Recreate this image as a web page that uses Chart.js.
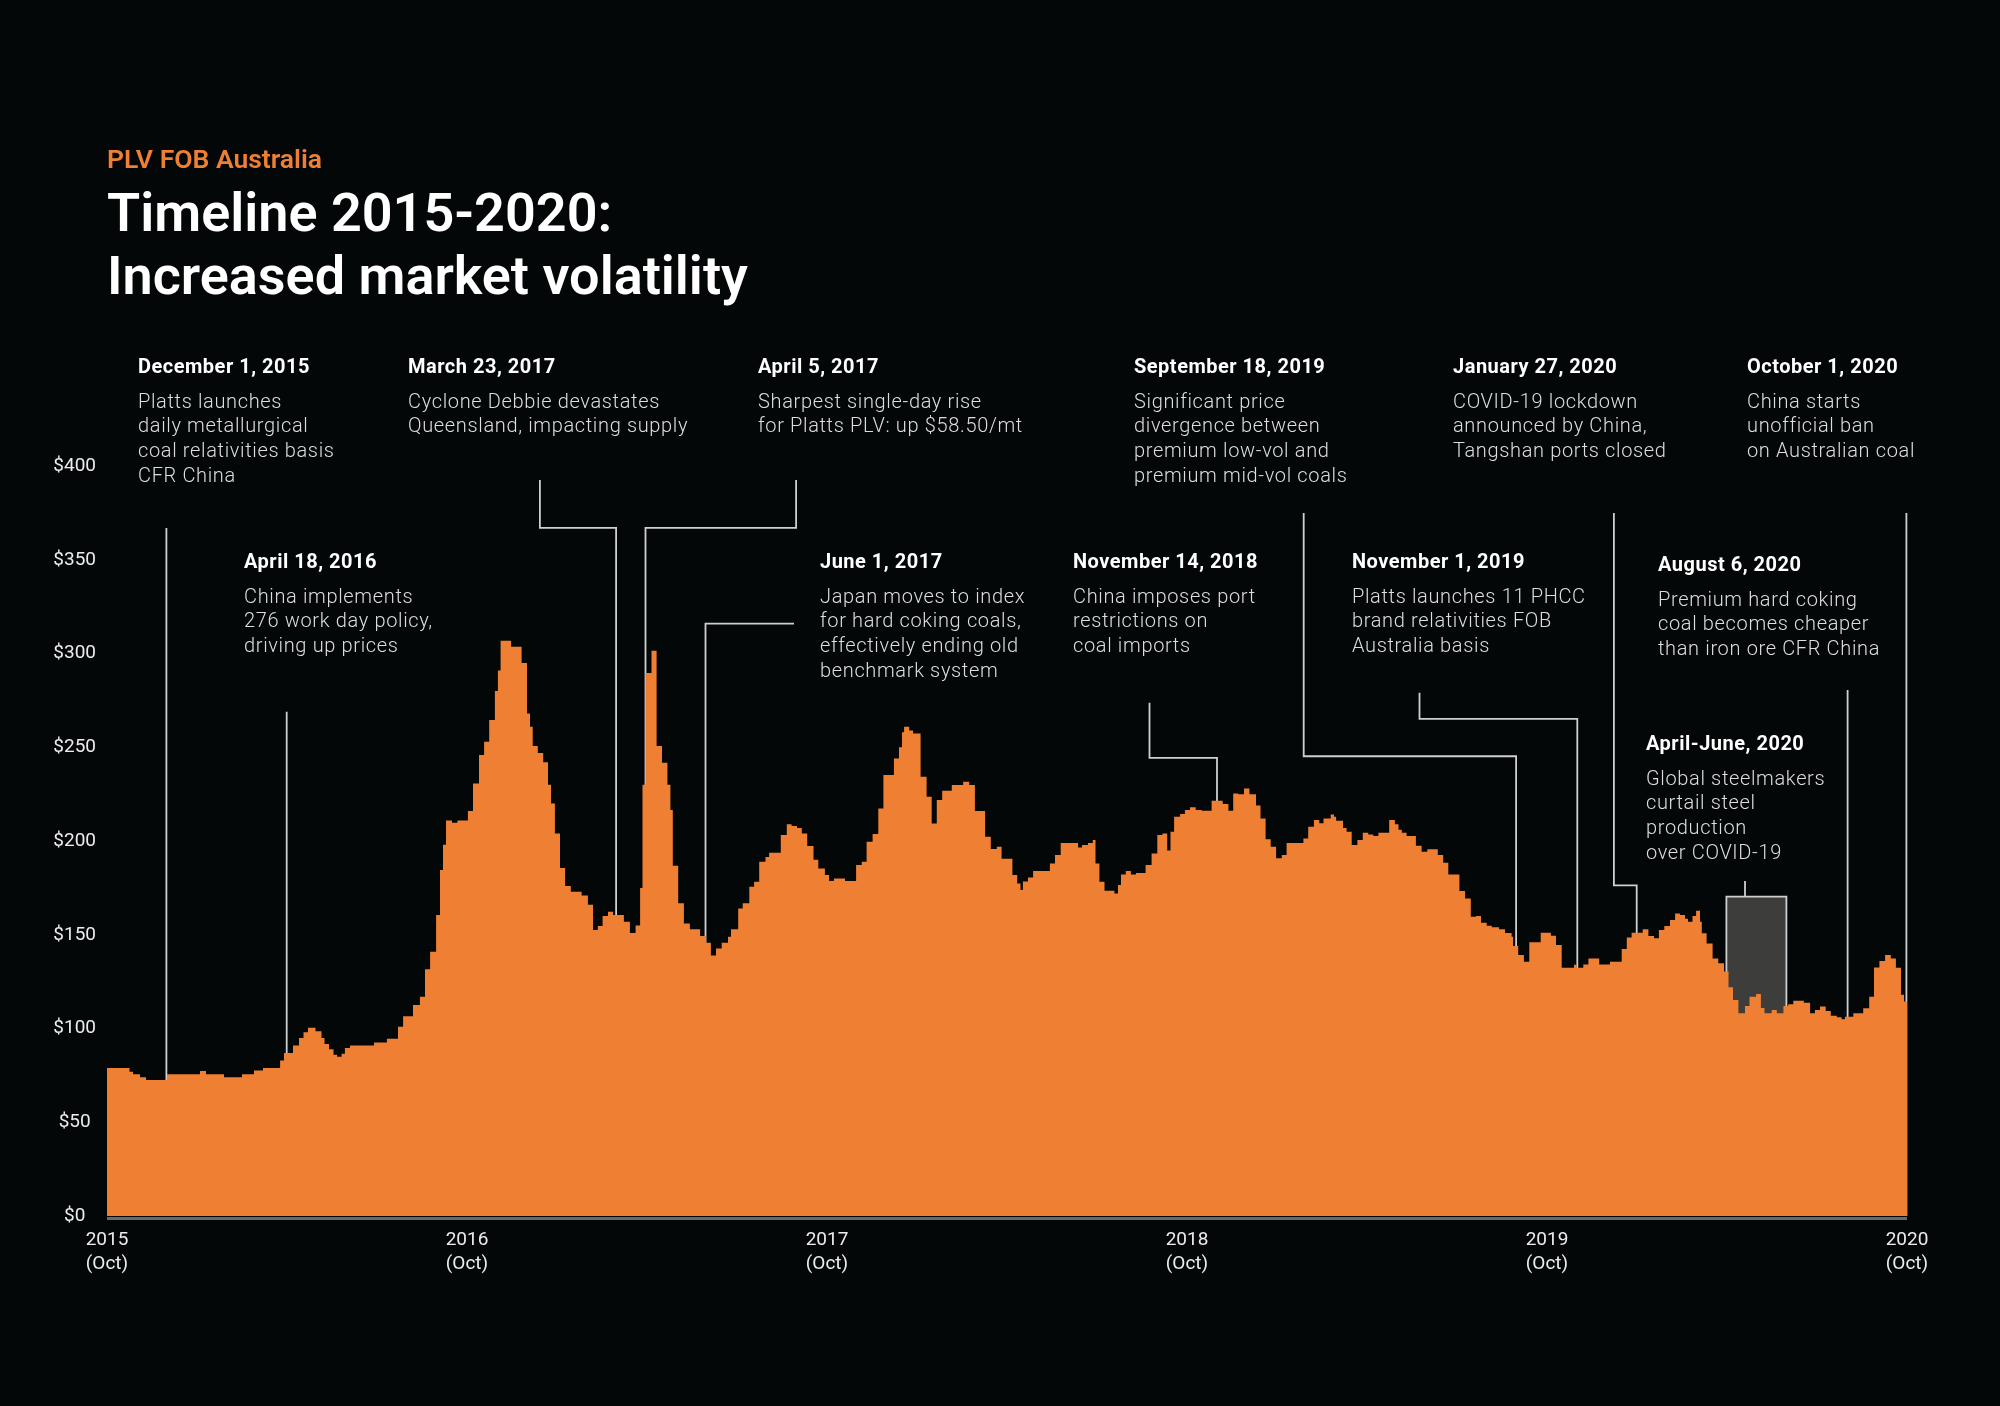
<!DOCTYPE html>
<html>
<head>
<meta charset="utf-8">
<script src="https://cdn.jsdelivr.net/npm/chart.js@4.4.1/dist/chart.umd.min.js"></script>
<style>
  html, body { margin: 0; padding: 0; background: #040708; }
  #wrap { position: relative; width: 2000px; height: 1406px; background: #040708; overflow: hidden; font-family: Roboto, "Noto Sans", sans-serif; }
  #chart { position: absolute; left: 0; top: 0; }
  .kicker { position: absolute; left: 107px; top: 144px; font-size: 26.5px; line-height: 30px; font-weight: 600; color: #ef7f32; white-space: nowrap; }
  .title { position: absolute; left: 107px; top: 182px; font-size: 54px; line-height: 62.6px; font-weight: 600; color: #fff; white-space: nowrap; }
  .note { position: absolute; white-space: nowrap; }
  .note .hd { font-size: 20px; line-height: 25px; font-weight: 700; letter-spacing: 0.5px; color: #fff; }
  .note .bd { margin-top: 9.5px; font-size: 20px; line-height: 24.8px; font-weight: 300; letter-spacing: 0.65px; color: #dedede; }
</style>
</head>
<body>
<div id="wrap">
  <canvas id="chart" width="2000" height="1406"></canvas>
  <div class="kicker">PLV FOB Australia</div>
  <div class="title">Timeline 2015-2020:<br>Increased market volatility</div>
</div>
<script>
'use strict';

// PLV FOB Australia, months counted from October 2015
const monthsSinceOct2015 = [
  0, 0.75, 0.87, 1.1, 1.3, 2.0, 3.1, 3.3, 3.9, 4.5,
  4.9, 5.2, 5.77, 5.9, 6.2, 6.4, 6.55, 6.7, 6.95, 7.15,
  7.25, 7.4, 7.55, 7.67, 7.82, 7.93, 8.1, 8.9, 9.33, 9.7,
  9.87, 10.2, 10.43, 10.6, 10.77, 10.97, 11.1, 11.2, 11.3, 11.5,
  11.68, 12.03, 12.2, 12.4, 12.57, 12.74, 12.93, 13.03, 13.12, 13.47,
  13.82, 14.0, 14.1, 14.19, 14.36, 14.54, 14.7, 14.8, 14.93, 15.1,
  15.27, 15.46, 15.82, 16.03, 16.2, 16.36, 16.52, 16.7, 16.87, 17.23,
  17.43, 17.62, 17.77, 17.85, 17.95, 18.15, 18.32, 18.5, 18.68, 18.78,
  18.86, 19.04, 19.23, 19.43, 19.77, 19.97, 20.13, 20.3, 20.49, 20.7,
  20.8, 21.04, 21.19, 21.41, 21.57, 21.74, 21.95, 22.07, 22.46, 22.66,
  22.82, 23.0, 23.16, 23.34, 23.55, 23.71, 23.93, 24.07, 24.23, 24.6,
  24.97, 25.16, 25.32, 25.52, 25.71, 25.88, 26.23, 26.4, 26.5, 26.57,
  26.74, 26.87, 27.12, 27.32, 27.49, 27.66, 27.84, 28.16, 28.54, 28.74,
  28.93, 29.27, 29.46, 29.66, 29.82, 30.18, 30.34, 30.45, 30.53, 30.7,
  30.87, 31.43, 31.6, 31.79, 32.37, 32.5, 32.7, 32.86, 32.95, 33.08,
  33.25, 33.58, 33.7, 33.8, 33.96, 34.13, 34.3, 34.62, 34.82, 35.01,
  35.18, 35.34, 35.45, 35.57, 35.77, 35.93, 36.1, 36.29, 36.49, 36.82,
  37.19, 37.38, 37.54, 37.71, 37.9, 38.08, 38.3, 38.45, 38.62, 38.79,
  38.97, 39.16, 39.32, 39.88, 40.04, 40.23, 40.41, 40.55, 40.79, 40.9,
  40.97, 41.2, 41.32, 41.49, 41.68, 41.86, 42.04, 42.21, 42.38, 42.74,
  42.93, 43.05, 43.16, 43.32, 43.63, 43.82, 44.01, 44.36, 44.54, 44.71,
  45.08, 45.27, 45.46, 45.63, 45.8, 45.99, 46.16, 46.4, 46.6, 46.82,
  46.87, 47.04, 47.23, 47.41, 47.79, 48.13, 48.3, 48.49, 48.9, 48.99,
  49.21, 49.38, 49.74, 50.1, 50.49, 50.66, 50.82, 51.19, 51.38, 51.57,
  51.73, 51.91, 52.1, 52.27, 52.43, 52.6, 52.7, 52.85, 52.97, 53.1,
  53.16, 53.32, 53.52, 53.71, 53.9, 54.05, 54.2, 54.38, 54.6, 54.75,
  54.97, 55.13, 55.25, 55.49, 55.66, 55.88, 56.04, 56.21, 56.56, 56.77,
  56.93, 57.1, 57.29, 57.46, 57.66, 57.82, 57.93, 58.21, 58.54, 58.74,
  58.9, 59.08, 59.27, 59.46, 59.63, 59.8, 59.9, 60
];

// price in $/mt, each value holds until the next month entry
const plvPrice = [
  79, 77, 75.6, 74, 72.5, 75.6, 77.3, 75.6, 74, 75.6,
  77.6, 79, 83, 87, 91, 95, 98, 100.4, 98.6, 95,
  91.8, 89, 86, 85, 86.6, 89.6, 91, 92.6, 94.6, 101,
  106.5, 112.5, 117, 131.6, 141, 160.5, 184.5, 198, 211, 209.8,
  211, 216, 230.7, 245.9, 253, 264.5, 280, 291, 306.8, 303.6,
  295, 268, 261, 250.7, 247, 242, 230, 220, 204, 185.6,
  176, 173, 171, 166, 152.5, 154.7, 160, 162.3, 160.5, 157,
  151, 155, 175, 230, 289.6, 301.5, 250.7, 241.8, 230, 216.5,
  186.8, 166.8, 156, 152.9, 149.3, 145.8, 139, 142.7, 145.8, 149,
  152.9, 164, 166.8, 175.6, 178.3, 189, 191.5, 193.8, 203.2, 209,
  208, 207, 204, 197.3, 190, 185.4, 181.9, 178.7, 180, 178.7,
  187.2, 189, 199.6, 203.7, 217.4, 235.2, 244, 250, 258, 261,
  259, 257.4, 234.3, 223.6, 209.4, 221.9, 226.8, 229.9, 231.6, 229.9,
  216, 202.3, 195.7, 197, 190.6, 181.9, 177.4, 173.9, 178.4, 180.5,
  184, 188, 192.5, 199, 196.6, 197.9, 199, 200.5, 188, 178.3,
  173.5, 172, 176.5, 182.2, 184, 182.2, 183, 187.2, 193.4, 203.2,
  204, 195, 205, 213, 214.4, 216.5, 218, 216.5, 216.2, 221.5,
  219.7, 216.2, 225.4, 225, 228, 225, 219, 212, 200.9, 197,
  190.8, 192.5, 199, 201.4, 207.6, 211.2, 209.5, 212, 214.2, 213,
  210.8, 207, 205, 197.9, 200.5, 204.4, 203.5, 202.7, 204.4, 211.2,
  209, 206, 204.4, 202.7, 197.5, 194.3, 195.6, 192.5, 188.4, 182.2,
  173.3, 169.4, 159.6, 160, 156.4, 154.8, 154, 152.9, 151, 149,
  144, 139.2, 135.6, 146, 151.1, 149.5, 144.5, 132.4, 134, 132.4,
  134.2, 137.4, 134.2, 135.6, 142.4, 148.6, 151.1, 152.9, 149.3, 148.1,
  152.5, 154.7, 157.9, 161.4, 160.5, 158.5, 157, 160, 162.8, 157,
  150.8, 145.4, 137.4, 134.8, 130.4, 122, 115.2, 108.1, 112, 117,
  118.4, 111, 108.1, 109.9, 108.1, 112, 112.9, 114.8, 113.8, 108.1,
  109.9, 111.7, 109.3, 106.8, 106, 105, 106.3, 108.1, 110.8, 117,
  132.6, 136, 139.2, 137.4, 132.4, 118, 114.4, 114.4
];

const yearLabels = ['2015', '2016', '2017', '2018', '2019', '2020'];

// shaded April-June 2020 window (months, top in $)
const covidWindow = { from: 53.98, to: 55.98, top: 170.3 };

// callout connectors: [month, $] vertices, last one runs down to the area
const connectors = [
  [[1.98, 367], [1.98, 0]],
  [[5.99, 269], [5.99, 0]],
  [[14.43, 392.5], [14.43, 367], [16.97, 367], [16.97, 0]],
  [[22.97, 392.5], [22.97, 367], [17.95, 367], [17.95, 0]],
  [[22.9, 315.9], [19.95, 315.9], [19.95, 0]],
  [[34.75, 273.7], [34.75, 244.3], [37.0, 244.3], [37.0, 0]],
  [[39.89, 374.9], [39.89, 245.2], [46.97, 245.2], [46.97, 0]],
  [[43.75, 279.1], [43.75, 265.1], [49.01, 265.1], [49.01, 0]],
  [[50.23, 374.9], [50.23, 176.3], [50.99, 176.3], [50.99, 0]],
  [[59.98, 374.9], [59.98, 0]],
  [[58.02, 280.5], [58.02, 0]],
  [[54.6, 178.7], [54.6, 170.3]]
];

const notes = [
  { x: 138, y: 366, hd: 'December 1, 2015', bd: ['Platts launches', 'daily metallurgical', 'coal relativities basis', 'CFR China'] },
  { x: 244, y: 561, hd: 'April 18, 2016', bd: ['China implements', '276 work day policy,', 'driving up prices'] },
  { x: 408, y: 366, hd: 'March 23, 2017', bd: ['Cyclone Debbie devastates', 'Queensland, impacting supply'] },
  { x: 758, y: 366, hd: 'April 5, 2017', bd: ['Sharpest single-day rise', 'for Platts PLV: up $58.50/mt'] },
  { x: 820, y: 561, hd: 'June 1, 2017', bd: ['Japan moves to index', 'for hard coking coals,', 'effectively ending old', 'benchmark system'] },
  { x: 1073, y: 561, hd: 'November 14, 2018', bd: ['China imposes port', 'restrictions on', 'coal imports'] },
  { x: 1134, y: 366, hd: 'September 18, 2019', bd: ['Significant price', 'divergence between', 'premium low-vol and', 'premium mid-vol coals'] },
  { x: 1352, y: 561, hd: 'November 1, 2019', bd: ['Platts launches 11 PHCC', 'brand relativities FOB', 'Australia basis'] },
  { x: 1453, y: 366, hd: 'January 27, 2020', bd: ['COVID-19 lockdown', 'announced by China,', 'Tangshan ports closed'] },
  { x: 1747, y: 366, hd: 'October 1, 2020', bd: ['China starts', 'unofficial ban', 'on Australian coal'] },
  { x: 1658, y: 564, hd: 'August 6, 2020', bd: ['Premium hard coking', 'coal becomes cheaper', 'than iron ore CFR China'] },
  { x: 1646, y: 743, hd: 'April-June, 2020', bd: ['Global steelmakers', 'curtail steel', 'production', 'over COVID-19'] }
];

const ORANGE = '#ef7f32';
const LINE = '#cfcfcf';
const TICK = '#ececec';

const wrap = document.getElementById('wrap');
notes.forEach(n => {
  const el = document.createElement('div');
  el.className = 'note';
  el.style.left = n.x + 'px';
  el.style.top = (n.y - 12) + 'px';
  el.innerHTML = `<div class="hd">${n.hd}</div><div class="bd">${n.bd.join('<br>')}</div>`;
  wrap.appendChild(el);
});

const calloutPlugin = {
  id: 'callouts',
  beforeDatasetsDraw(chart) {
    const { ctx, scales: { x, y } } = chart;
    ctx.save();
    // April-June 2020 box
    const l = x.getPixelForValue(covidWindow.from);
    const r = x.getPixelForValue(covidWindow.to);
    const t = y.getPixelForValue(covidWindow.top);
    const b = y.getPixelForValue(0);
    ctx.fillStyle = '#3d3d3b';
    ctx.fillRect(l, t, r - l, b - t);
    ctx.strokeStyle = LINE;
    ctx.lineWidth = 1.8;
    ctx.beginPath();
    ctx.moveTo(l, b); ctx.lineTo(l, t); ctx.lineTo(r, t); ctx.lineTo(r, b);
    ctx.stroke();
    // connector lines
    connectors.forEach(path => {
      ctx.beginPath();
      path.forEach(([m, v], i) => {
        const px = x.getPixelForValue(m);
        const py = y.getPixelForValue(v);
        if (i === 0) ctx.moveTo(px, py); else ctx.lineTo(px, py);
      });
      ctx.stroke();
    });
    ctx.restore();
  },
  afterDraw(chart) {
    const { ctx, chartArea } = chart;
    ctx.save();
    ctx.strokeStyle = '#6a6a6a';
    ctx.lineWidth = 3;
    ctx.beginPath();
    ctx.moveTo(chartArea.left, chartArea.bottom + 2.5);
    ctx.lineTo(chartArea.right, chartArea.bottom + 2.5);
    ctx.stroke();
    ctx.restore();
  }
};

const points = monthsSinceOct2015.map((m, i) => ({ x: m, y: plvPrice[i] }));

new Chart(document.getElementById('chart'), {
  type: 'line',
  data: {
    datasets: [{
      label: 'PLV FOB Australia',
      data: points,
      stepped: true,
      fill: 'origin',
      backgroundColor: ORANGE,
      borderColor: 'rgba(0,0,0,0)',
      borderWidth: 0,
      pointRadius: 0,
    }],
  },
  options: {
    responsive: false,
    animation: false,
    layout: { padding: { top: 466, right: 93, left: 0, bottom: 0 } },
    plugins: {
      legend: { display: false },
      tooltip: { enabled: false },
    },
    scales: {
      x: {
        type: 'linear',
        min: 0,
        max: 60,
        grid: { display: false },
        border: { display: false },
        ticks: {
          stepSize: 12,
          maxRotation: 0,
          padding: 4,
          color: TICK,
          font: { family: 'Roboto', size: 19, lineHeight: 1.26 },
          callback: (v) => [yearLabels[v / 12], '(Oct)'],
        },
        afterFit: (s) => { s.height = 190; },
      },
      y: {
        min: 0,
        max: 400,
        grid: { display: false },
        border: { display: false },
        ticks: {
          stepSize: 50,
          crossAlign: 'center',
          padding: 3,
          color: TICK,
          font: { family: 'Roboto', size: 19 },
          callback: (v) => '$' + v,
        },
        afterFit: (s) => { s.width = 107; },
      },
    },
  },
  plugins: [calloutPlugin],
});
</script>
</body>
</html>
